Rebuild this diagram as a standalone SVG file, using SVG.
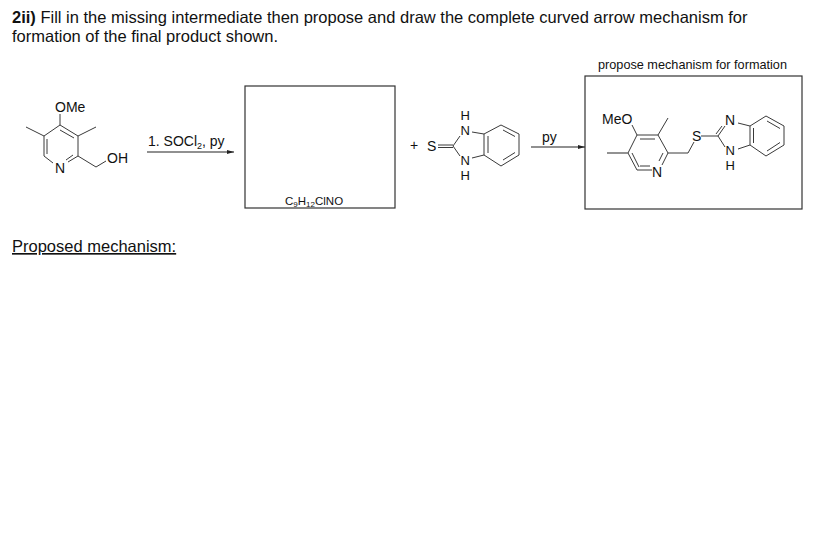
<svg xmlns="http://www.w3.org/2000/svg" width="820" height="533" viewBox="0 0 820 533">
<style>
text{font-family:"Liberation Sans",Arial,sans-serif;fill:#111}
.h{font-size:16.500px}
.a{font-size:12.700px;text-anchor:middle}
.r{font-size:14px}
.s{font-size:13px}
.b{fill:none;stroke:#3a3a3a;stroke-width:1}
.box{fill:#fff;stroke:#333;stroke-width:1.2}
.l{stroke:#222;stroke-width:1.2}
</style>
<defs><marker id="ah" markerWidth="8" markerHeight="6" refX="7" refY="2.5" orient="auto" markerUnits="userSpaceOnUse"><path d="M0 0.5L7 2.5L0 4.5Z" fill="#222"/></marker></defs>
<g id="question">
<text class="h" x="12" y="23"><tspan font-weight="bold">2ii)</tspan> Fill in the missing intermediate then propose and draw the complete curved arrow mechanism for</text>
<text class="h" x="12" y="42">formation of the final product shown.</text>
</g>
<g id="connectors">
<line class="l" x1="147" y1="152" x2="234" y2="152" marker-end="url(#ah)"/>
<line class="l" x1="531" y1="147" x2="585" y2="147" marker-end="url(#ah)"/>
</g>
<g id="reagent1"><text class="r" x="148" y="146">1. SOCl<tspan font-size="9" dy="3">2</tspan><tspan dy="-3">, py</tspan></text></g>
<g id="reagent2"><text class="r" x="542" y="142">py</text></g>
<g id="starting-material">
<path class="b" d="M60 114V125L78 136V156L68 162M53 163L44 156V136L60 125M47 139V154M74 138L60 130M73 155L66 160M44 136L26 127M78 136L96 127M78 156L96 167L106 161"/>
<text class="r" x="55" y="112">OMe</text>
<text class="r" x="55" y="172.500">N</text>
<text class="r" x="107" y="163">OH</text>
</g>
<g id="intermediate-box">
<rect class="box" x="245" y="86" width="150" height="122"/>
<text font-size="11.500" x="285" y="205">C<tspan font-size="8" dy="2">9</tspan><tspan dy="-2">H</tspan><tspan font-size="8" dy="2">12</tspan><tspan dy="-2">ClNO</tspan></text>
</g>
<g id="thione">
<text class="r" x="410" y="150">+</text>
<text class="r" x="427" y="151">S</text>
<path class="b" d="M438 145H453M438 147.500H453M453 146L460 136M453 146L460 156M472 132L484 134V155L472 158M484 134L501 125L519 134V155L501 166L484 155M488 136V153M503 130L515 136.500M515 152.500L503 160"/>
<text class="s" x="460.500" y="135">N</text>
<text class="s" x="460.500" y="120">H</text>
<text class="s" x="460.500" y="165">N</text>
<text class="s" x="460.500" y="180">H</text>
</g>
<g id="product-box">
<text class="a" x="692.500" y="69">propose mechanism for formation</text>
<rect class="box" x="585" y="76" width="217" height="133"/>
<path class="b" d="M637 135H658L668 153L662 165M652 170H637L628 153L637 135M640 139H655M663 153L659 161M640 166H650M632 153L639 167M658 135L668 118M637 135L632 125M668 153H688L694 142M701 136H718L725 126M718 136L725 147M716 134L722 126M738 123L750 126V145L738 149M750 126L766 116L784 126V145L766 156L750 145M753.500 128V143M767 121L780 128.500M780 142.500L767 151"/>
<line x1="607" y1="153" x2="628" y2="153" stroke="#777" stroke-width="1.600"/>
<text class="r" x="602" y="124">MeO</text>
<text class="r" x="652" y="177">N</text>
<text class="r" x="692" y="141">S</text>
<text class="r" x="725" y="125">N</text>
<text class="s" x="725.500" y="155">N</text>
<text class="s" x="725.500" y="170">H</text>
</g>
<g id="mechanism-label"><text font-size="16.500" x="12" y="252" text-decoration="underline">Proposed mechanism:</text></g>
</svg>
